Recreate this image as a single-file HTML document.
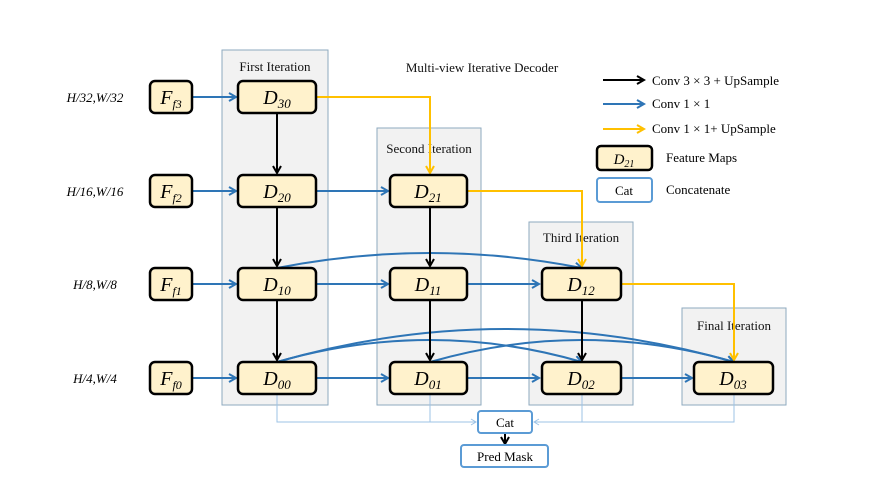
<!DOCTYPE html>
<html><head><meta charset="utf-8"><style>
body{margin:0;background:#fff;}
svg{display:block;font-family:"Liberation Serif",serif;}
</style></head><body>
<svg width="893" height="495" viewBox="0 0 893 495" xmlns="http://www.w3.org/2000/svg">
<defs>
<marker id="ab" markerWidth="10" markerHeight="10" refX="8" refY="5" orient="auto" markerUnits="userSpaceOnUse"><path d="M1,1 L8,5 L1,9" fill="none" stroke="#2e75b6" stroke-width="2"/></marker>
<marker id="ak" markerWidth="10" markerHeight="10" refX="8" refY="5" orient="auto" markerUnits="userSpaceOnUse"><path d="M1,1 L8,5 L1,9" fill="none" stroke="#000" stroke-width="2"/></marker>
<marker id="ay" markerWidth="10" markerHeight="10" refX="8" refY="5" orient="auto" markerUnits="userSpaceOnUse"><path d="M1,1 L8,5 L1,9" fill="none" stroke="#ffc000" stroke-width="2"/></marker>
<marker id="al" markerWidth="8" markerHeight="8" refX="6" refY="4" orient="auto" markerUnits="userSpaceOnUse"><path d="M1,1 L6,4 L1,7" fill="none" stroke="#9dc3e6" stroke-width="1"/></marker>
</defs>
<g fill="#f2f2f2" stroke="#8eaabf" stroke-width="1">
<rect x="222" y="50" width="106" height="355"/>
<rect x="377" y="128" width="104" height="277"/>
<rect x="529" y="222" width="104" height="183"/>
<rect x="682" y="308" width="104" height="97"/>
</g>
<g font-size="13" text-anchor="middle" fill="#111">
<text x="275" y="71">First Iteration</text>
<text x="429" y="153">Second Iteration</text>
<text x="581" y="242">Third Iteration</text>
<text x="734" y="330">Final Iteration</text>
<text x="482" y="72">Multi-view Iterative Decoder</text>
</g>
<g font-size="13" font-style="italic" text-anchor="middle">
<text x="95" y="102">H/32,W/32</text>
<text x="95" y="196">H/16,W/16</text>
<text x="95" y="289">H/8,W/8</text>
<text x="95" y="383">H/4,W/4</text>
</g>
<!-- arrows -->
<g fill="none" stroke-width="2">
<g stroke="#2e75b6" marker-end="url(#ab)">
<line x1="192" y1="97" x2="236" y2="97"/>
<line x1="192" y1="191" x2="236" y2="191"/>
<line x1="192" y1="284" x2="236" y2="284"/>
<line x1="192" y1="378" x2="236" y2="378"/>
<line x1="316" y1="191" x2="388" y2="191"/>
<line x1="316" y1="284" x2="388" y2="284"/>
<line x1="316" y1="378" x2="388" y2="378"/>
<line x1="467" y1="284" x2="539" y2="284"/>
<line x1="467" y1="378" x2="539" y2="378"/>
<line x1="621" y1="378" x2="692" y2="378"/>
<path d="M277,268 Q430,238 582,268"/>
<path d="M277,362 Q430,318 582,362"/>
<path d="M277,362 Q505,296 734,362"/>
<path d="M430,362 Q582,318 734,362"/>
</g>
<g stroke="#000" marker-end="url(#ak)">
<line x1="277" y1="113" x2="277" y2="173"/>
<line x1="277" y1="207" x2="277" y2="266"/>
<line x1="277" y1="300" x2="277" y2="360"/>
<line x1="430" y1="207" x2="430" y2="266"/>
<line x1="430" y1="300" x2="430" y2="360"/>
<line x1="582" y1="300" x2="582" y2="360"/>
<line x1="505" y1="433" x2="505" y2="444"/>
</g>
<g stroke="#ffc000" marker-end="url(#ay)">
<path d="M316,97 H430 V173"/>
<path d="M467,191 H582 V266"/>
<path d="M621,284 H734 V360"/>
</g>
</g>
<g fill="none" stroke="#9dc3e6" stroke-width="1">
<path d="M277,394 V422 H476" marker-end="url(#al)"/>
<path d="M430,394 V422"/>
<path d="M734,394 V422 H534" marker-end="url(#al)"/>
<path d="M582,394 V422"/>
</g>
<!-- nodes -->
<g fill="#fff2cc" stroke="#000" stroke-width="2.5">
<rect x="150" y="81" width="42" height="32" rx="5"/>
<rect x="150" y="175" width="42" height="32" rx="5"/>
<rect x="150" y="268" width="42" height="32" rx="5"/>
<rect x="150" y="362" width="42" height="32" rx="5"/>
<rect x="238" y="81" width="78" height="32" rx="5"/>
<rect x="238" y="175" width="78" height="32" rx="5"/>
<rect x="238" y="268" width="78" height="32" rx="5"/>
<rect x="238" y="362" width="78" height="32" rx="5"/>
<rect x="390" y="175" width="77" height="32" rx="5"/>
<rect x="390" y="268" width="77" height="32" rx="5"/>
<rect x="390" y="362" width="77" height="32" rx="5"/>
<rect x="542" y="268" width="79" height="32" rx="5"/>
<rect x="542" y="362" width="79" height="32" rx="5"/>
<rect x="694" y="362" width="79" height="32" rx="5"/>
<rect x="597" y="146" width="55" height="24" rx="4"/>
</g>
<g font-size="20" font-style="italic" text-anchor="middle">
<text x="171" y="104">F<tspan font-size="12" dy="4">f3</tspan></text>
<text x="171" y="198">F<tspan font-size="12" dy="4">f2</tspan></text>
<text x="171" y="291">F<tspan font-size="12" dy="4">f1</tspan></text>
<text x="171" y="385">F<tspan font-size="12" dy="4">f0</tspan></text>
<text x="277" y="104">D<tspan font-size="13" dy="4">30</tspan></text>
<text x="277" y="198">D<tspan font-size="13" dy="4">20</tspan></text>
<text x="277" y="291">D<tspan font-size="13" dy="4">10</tspan></text>
<text x="277" y="385">D<tspan font-size="13" dy="4">00</tspan></text>
<text x="428" y="198">D<tspan font-size="13" dy="4">21</tspan></text>
<text x="428" y="291">D<tspan font-size="13" dy="4">11</tspan></text>
<text x="428" y="385">D<tspan font-size="13" dy="4">01</tspan></text>
<text x="581" y="291">D<tspan font-size="13" dy="4">12</tspan></text>
<text x="581" y="385">D<tspan font-size="13" dy="4">02</tspan></text>
<text x="733" y="385">D<tspan font-size="13" dy="4">03</tspan></text>
<text x="624" y="164" font-size="15">D<tspan font-size="10" dy="3">21</tspan></text>
</g>
<g fill="#fff" stroke="#5b9bd5" stroke-width="2">
<rect x="478" y="411" width="54" height="22" rx="3"/>
<rect x="461" y="445" width="87" height="22" rx="3"/>
<rect x="597" y="178" width="55" height="24" rx="3"/>
</g>
<g font-size="13" text-anchor="middle">
<text x="505" y="427">Cat</text>
<text x="505" y="461">Pred Mask</text>
<text x="624" y="195">Cat</text>
</g>
<!-- legend -->
<g fill="none" stroke-width="2">
<line x1="603" y1="80" x2="644" y2="80" stroke="#000" marker-end="url(#ak)"/>
<line x1="603" y1="104" x2="644" y2="104" stroke="#2e75b6" marker-end="url(#ab)"/>
<line x1="603" y1="129" x2="644" y2="129" stroke="#ffc000" marker-end="url(#ay)"/>
</g>
<g font-size="13">
<text x="652" y="85">Conv 3 × 3 + UpSample</text>
<text x="652" y="108">Conv 1 × 1</text>
<text x="652" y="133">Conv 1 × 1+ UpSample</text>
<text x="666" y="162">Feature Maps</text>
<text x="666" y="194">Concatenate</text>
</g>
</svg>
</body></html>
